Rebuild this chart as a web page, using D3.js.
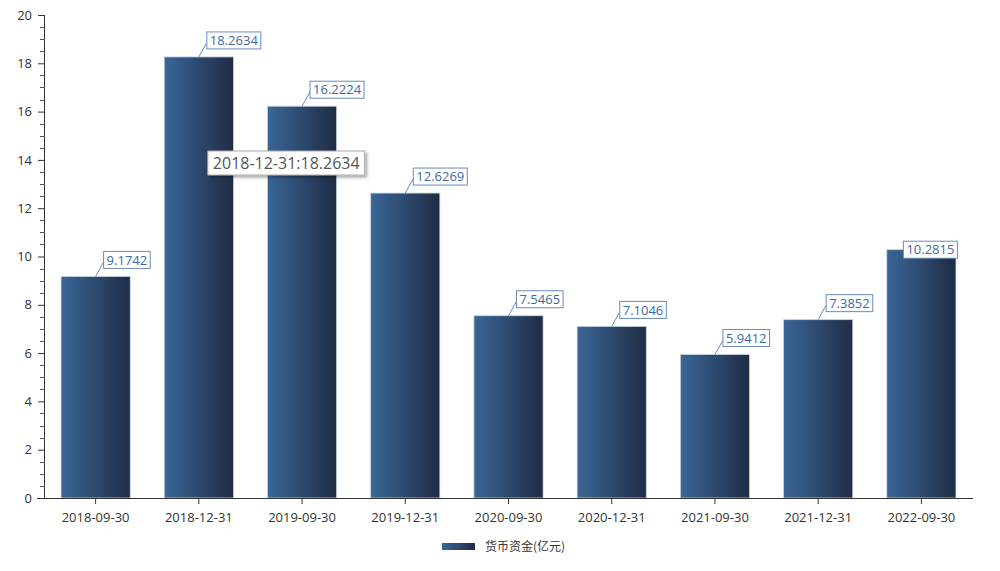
<!DOCTYPE html>
<meta charset="utf-8">
<style>
body { margin: 0; background: #fff; }
svg { font-family: "Microsoft YaHei", "Noto Sans CJK SC", "Open Sans", sans-serif; }
.axis text { fill: #333; font-size: 13px; font-family: "Open Sans", sans-serif; }
.axis path, .axis line { stroke: #333; }
</style>
<svg width="1000" height="571"></svg>
<script src="https://d3js.org/d3.v7.min.js"></script>
<script>
var dates = ["2018-09-30", "2018-12-31", "2019-09-30", "2019-12-31", "2020-09-30",
             "2020-12-31", "2021-09-30", "2021-12-31", "2022-09-30"];
var values = [9.1742, 18.2634, 16.2224, 12.6269, 7.5465, 7.1046, 5.9412, 7.3852, 10.2815];
var yTicks = [0, 2, 4, 6, 8, 10, 12, 14, 16, 18, 20];
var seriesName = "货币资金(亿元)";
var tipIndex = 1;

var svg = d3.select("svg"),
    margin = {top: 15, right: 27, bottom: 73, left: 44},
    width = +svg.attr("width") - margin.left - margin.right,
    height = +svg.attr("height") - margin.top - margin.bottom,
    g = svg.append("g").attr("transform", "translate(" + margin.left + "," + margin.top + ")");

var defs = svg.append("defs");
var grad = defs.append("linearGradient").attr("id", "barGrad")
    .attr("x1", "0%").attr("x2", "100%").attr("y1", "0%").attr("y2", "0%");
grad.append("stop").attr("offset", "0%").attr("stop-color", "#3a6697");
grad.append("stop").attr("offset", "100%").attr("stop-color", "#1f2c45");

var shadow = defs.append("filter").attr("id", "shadow")
    .attr("x", "-10%").attr("y", "-30%").attr("width", "130%").attr("height", "170%");
shadow.append("feDropShadow").attr("dx", 2).attr("dy", 2).attr("stdDeviation", 1.5)
    .attr("flood-color", "#000").attr("flood-opacity", 0.35);

var x = d3.scaleBand().domain(dates).range([0, width]).paddingInner(0.33).paddingOuter(0.165);
var xc = function(d) { return x(d) + x.bandwidth() / 2; };
var y = d3.scaleLinear().domain([0, 20]).range([height, 0]);

// y axis with minor ticks
var yAxis = g.append("g").attr("class", "axis")
    .call(d3.axisLeft(y).tickValues(yTicks).tickSize(6).tickPadding(6).tickSizeOuter(0));
yAxis.select(".domain").attr("d", "M0.5," + (y(20)) + "V" + height);
var minor = d3.range(0, 20.01, 0.5).filter(function(v) { return v % 2 !== 0; });
g.append("g").selectAll("line").data(minor).enter().append("line")
    .attr("x1", -4).attr("x2", 1)
    .attr("y1", function(d) { return Math.round(y(d)) + 0.5; })
    .attr("y2", function(d) { return Math.round(y(d)) + 0.5; })
    .attr("stroke", "#555");

// bars
g.append("g").selectAll("rect").data(values).enter().append("rect")
    .attr("x", function(d, i) { return x(dates[i]); })
    .attr("y", function(d) { return y(d); })
    .attr("width", x.bandwidth())
    .attr("height", function(d) { return height - y(d); })
    .attr("fill", "url(#barGrad)")
    .attr("stroke", "#c9d2de").attr("stroke-width", 0.8);

// x axis
var xAxis = g.append("g").attr("class", "axis")
    .attr("transform", "translate(0," + height + ")")
    .call(d3.axisBottom(x).tickSize(6).tickPadding(9).tickSizeOuter(0));
xAxis.select(".domain").attr("d", "M-7,0.5H" + width);
xAxis.selectAll(".tick line").attr("stroke", "#666");

// value labels
var lab = g.append("g").selectAll("g").data(values).enter().append("g");
lab.each(function(d, i) {
  var gg = d3.select(this);
  var cx = xc(dates[i]), top = y(d);
  var t = gg.append("text").text(d.toFixed(4))
      .attr("font-size", 13).attr("fill", "#3d6aa5")
      .attr("font-family", "'Open Sans', sans-serif");
  var w = t.node().getComputedTextLength() + 6, h = 17;
  var bx = cx + 8, by = top - 8 - h;
  var line = true;
  if (bx + w > width - 14) {
    bx = cx - 18; by = top - h / 2; line = false;
  }
  if (line) {
    gg.insert("line", "text").attr("x1", cx).attr("y1", top)
      .attr("x2", bx).attr("y2", by + h / 2 + 2)
      .attr("stroke", "#6b8cba").attr("stroke-width", 1);
  }
  gg.insert("rect", "text").attr("x", bx).attr("y", by).attr("width", w).attr("height", h)
    .attr("fill", "#fff").attr("stroke", "#6b8cba").attr("stroke-width", 1);
  t.attr("x", bx + 3).attr("y", by + h / 2).attr("dy", "0.36em");
});

// tooltip
var tip = g.append("g").attr("transform", "translate(" + (xc(dates[tipIndex]) + 9) + ",136)");
var tt = tip.append("text").text(dates[tipIndex] + ":" + values[tipIndex])
    .attr("font-size", 16).attr("fill", "#555").attr("font-family", "'Open Sans', sans-serif")
    .attr("x", 5).attr("y", 12).attr("dy", "0.36em");
var tw = tt.node().getComputedTextLength() + 10;
tip.insert("rect", "text").attr("width", tw).attr("height", 24)
    .attr("fill", "#fff").attr("stroke", "#aaa").attr("filter", "url(#shadow)");

// legend
var legend = svg.append("g").attr("transform", "translate(442,543)");
legend.append("rect").attr("width", 33).attr("height", 7).attr("fill", "url(#barGrad)");
legend.append("text").attr("x", 43).attr("y", 4).attr("dy", "0.36em")
    .attr("font-size", 12).attr("fill", "#333").text(seriesName);
</script>
